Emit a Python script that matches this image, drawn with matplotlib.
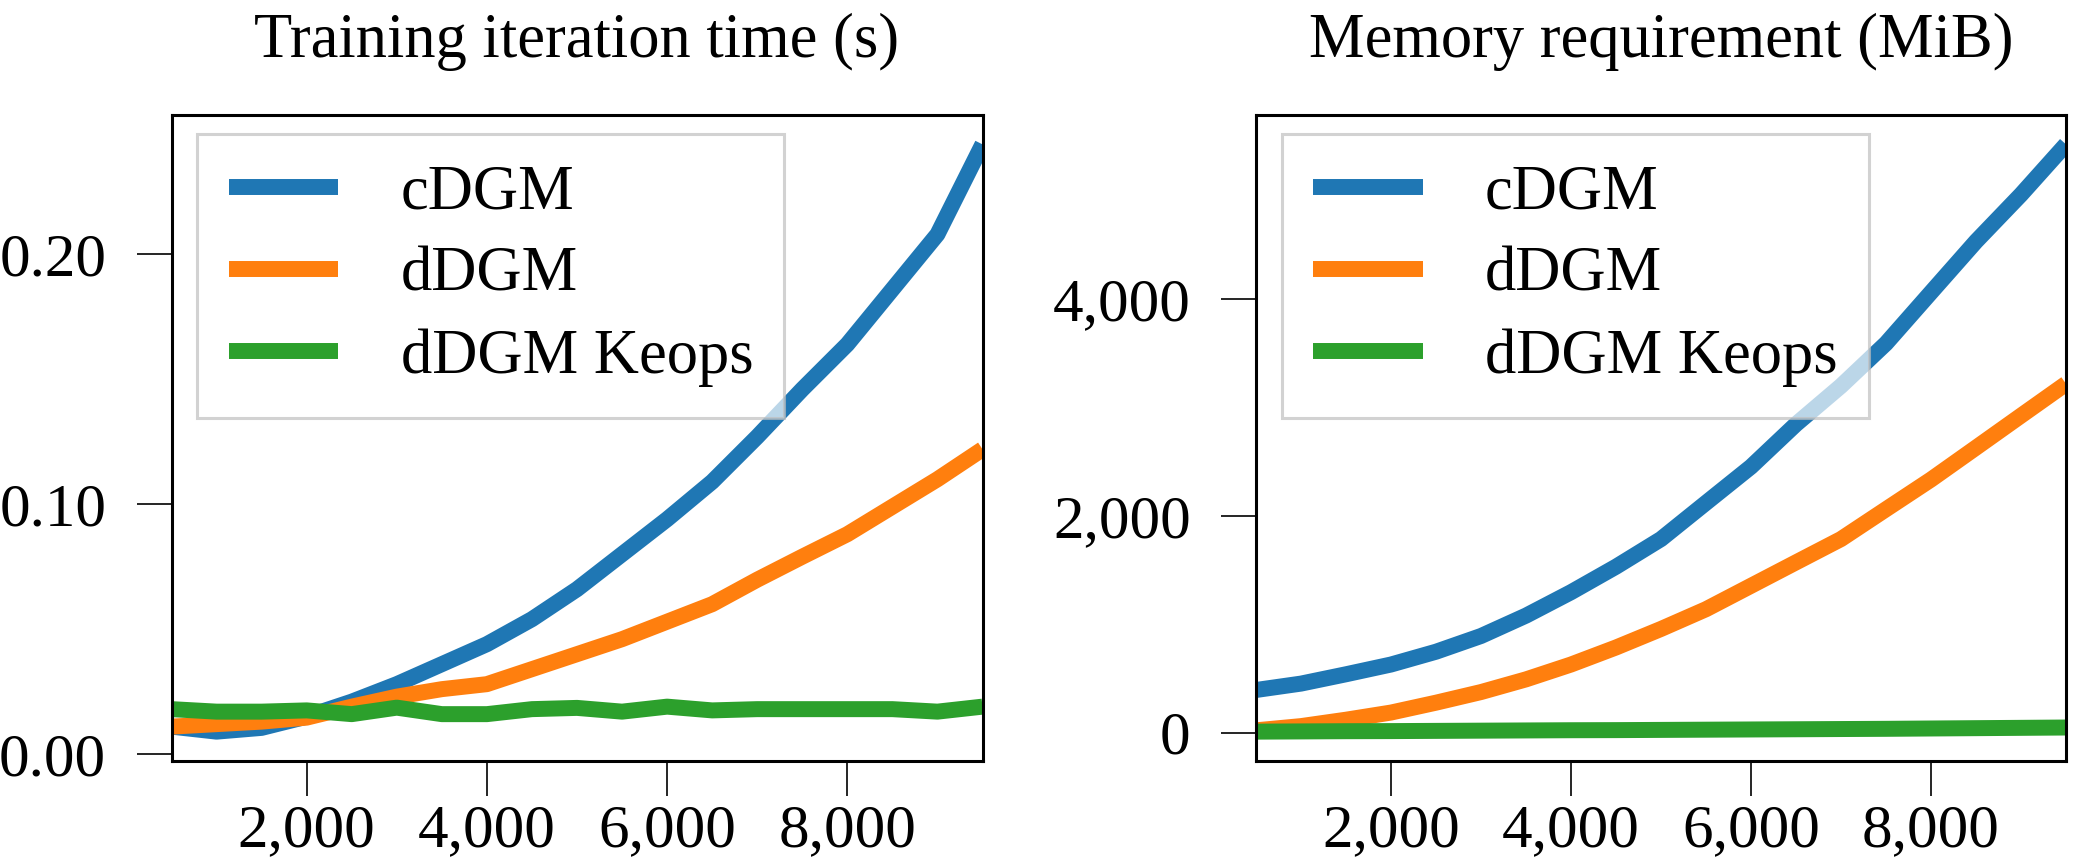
import matplotlib
matplotlib.use("Agg")
import matplotlib.pyplot as plt
from matplotlib.ticker import FuncFormatter

# number of nodes
n_nodes = [500, 1000, 1500, 2000, 2500, 3000, 3500, 4000, 4500, 5000,
           5500, 6000, 6500, 7000, 7500, 8000, 8500, 9000, 9500]

# training iteration time (s)
time_cdgm = [0.011, 0.009, 0.0105, 0.015, 0.021, 0.028, 0.036, 0.044, 0.054, 0.066,
             0.080, 0.094, 0.109, 0.127, 0.146, 0.164, 0.186, 0.208, 0.244]
time_ddgm = [0.011, 0.012, 0.013, 0.0146, 0.019, 0.023, 0.026, 0.028, 0.034, 0.040,
             0.046, 0.053, 0.060, 0.0698, 0.079, 0.088, 0.099, 0.110, 0.122]
time_keops = [0.018, 0.017, 0.017, 0.0175, 0.016, 0.0186, 0.016, 0.016, 0.018, 0.0185,
              0.017, 0.019, 0.0175, 0.018, 0.018, 0.018, 0.018, 0.017, 0.019]

# memory requirement (MiB)
mem_cdgm = [392, 451, 537, 627, 745, 890, 1078, 1294, 1529, 1784,
            2118, 2451, 2843, 3196, 3588, 4059, 4529, 4961, 5424]
mem_ddgm = [20, 59, 118, 184, 275, 373, 490, 627, 784, 955,
            1137, 1353, 1569, 1784, 2059, 2333, 2627, 2922, 3216]
mem_keops = [8, 10, 12, 13, 15, 17, 19, 21, 22, 24,
             26, 28, 30, 32, 34, 37, 40, 43, 46]

labels = ['cDGM', 'dDGM', 'dDGM Keops']
x_ticks = [2000, 4000, 6000, 8000]

plt.rcParams['font.family'] = ['Liberation Serif', 'DejaVu Serif']
FS = 45      # title / legend
FS_TICK = 44

W, H = 2075, 867
fig = plt.figure(figsize=(W / 100, H / 100), dpi=100)
ax1 = fig.add_axes([171.5 / W, 1 - 761 / H, 811 / W, 646 / H])
ax2 = fig.add_axes([1256 / W, 1 - 761 / H, 810 / W, 646 / H])

comma = FuncFormatter(lambda v, p: '{:,.0f}'.format(v))


def draw(ax, series, title, yticks, yfmt):
    for ys, lab, c in zip(series, labels, ['C0', 'C1', 'C2']):
        ax.plot(n_nodes, ys, color=c, lw=11.5, label=lab, solid_capstyle='butt')
    ax.set_xlim(500, 9500)
    ax.set_xticks(x_ticks)
    ax.xaxis.set_major_formatter(comma)
    ax.set_yticks(yticks)
    ax.yaxis.set_major_formatter(yfmt)
    ax.tick_params(labelsize=FS_TICK, length=25, width=1.2, direction='out')
    ax.tick_params(axis='x', pad=6)
    ax.tick_params(axis='y', pad=22)
    for s in ax.spines.values():
        s.set_linewidth(2.2)
    ax.set_title(title, fontsize=FS, pad=42)
    leg = ax.legend(loc='upper left', bbox_to_anchor=(0.032, 0.971), borderaxespad=0,
                    fontsize=FS, fancybox=False, framealpha=0.7, edgecolor='0.75',
                    handlelength=1.75, handletextpad=1.0, labelspacing=0.38, borderpad=0.5)
    leg.get_frame().set_linewidth(2.2)


draw(ax1, [time_cdgm, time_ddgm, time_keops], 'Training iteration time (s)',
     [0.0, 0.1, 0.2], FuncFormatter(lambda v, p: '%.2f' % v))
draw(ax2, [mem_cdgm, mem_ddgm, mem_keops], 'Memory requirement (MiB)',
     [0, 2000, 4000], comma)

fig.savefig('out.png', dpi=100)
